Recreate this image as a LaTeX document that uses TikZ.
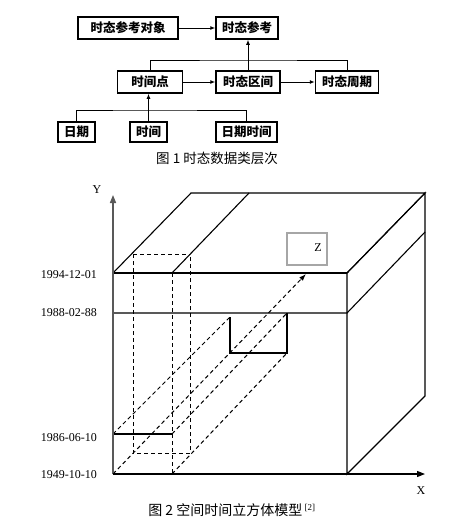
\documentclass[tikz,border=0pt]{standalone}
\usepackage{fontspec}
\setmainfont{Liberation Serif}
\newfontfamily\cjk{Noto Sans CJK SC}
\usetikzlibrary{arrows.meta}
\begin{document}
\begin{tikzpicture}[x=1pt,y=-1pt,
  box/.style={draw,line width=1.5pt,inner sep=0pt,minimum height=22pt,font=\cjk\bfseries\fontsize{12.5}{13}\selectfont},
  sbox/.style={box,minimum height=20pt},
  conn/.style={line width=1pt},
  arr/.style={conn,-{Latex[length=5pt,width=4pt]}},
  edgeline/.style={line width=1.1pt},
  dsh/.style={line width=1pt,dash pattern=on 4pt off 3pt},
  datelab/.style={anchor=east,font=\fontsize{12}{12}\selectfont,inner sep=0pt},
]
\useasboundingbox[fill=white] (0,0) rectangle (474,520);

% ---- Figure 1: hierarchy ----
\node[box,minimum width=100pt] (obj) at (128,28) {时态参考对象};
\node[box,minimum width=62pt] (ref) at (247,28) {时态参考};
\node[box,minimum width=65pt] (pt) at (150,82) {时间点};
\node[box,minimum width=64pt] (iv) at (248,82) {时态区间};
\node[box,minimum width=63pt] (per) at (347,82) {时态周期};
\node[sbox,minimum width=37pt] (date) at (76.5,132) {日期};
\node[sbox,minimum width=37pt] (time) at (148.5,132) {时间};
\node[sbox,minimum width=61pt] (dt) at (246.5,132) {日期时间};

\draw[arr] (obj) -- (ref);
\draw[arr] (pt) -- (iv);
\draw[arr] (iv) -- (per);
\coordinate (j1) at (248,60);
\draw[arr] (iv.north) -- (iv.north |- ref.south);
\draw[conn] (pt.north) |- (j1) -| (per.north);
\coordinate (j2) at (148.5,110);
\draw[arr] (time.north) -- (time.north |- pt.south);
\draw[conn] (date.north) |- (j2) -| (dt.north);

\node[font=\cjk\fontsize{13.5}{14}\selectfont] (cap1) at (217,158) {图 1 时态数据类层次};

% ---- Figure 2: space-time cube ----
\coordinate (O) at (113,474);
\coordinate (A) at (113,273);
\coordinate (B) at (347,273);
\coordinate (C) at (347,474);
\coordinate (D) at (191,193);
\coordinate (E) at (425,193);
\coordinate (F) at (425,396);
\coordinate (P) at (172,273);
\coordinate (Q) at (249,193);
\coordinate (G) at (113,313);
\coordinate (H) at (347,313);
\coordinate (H2) at (425,232);
\coordinate (K) at (113,434);
\coordinate (L) at (172,434);
\coordinate (M) at (172,474);
\coordinate (Pa) at (133,254);
\coordinate (Pb) at (190,254);
\coordinate (Pc) at (133,453);
\coordinate (Pd) at (190,453);
\coordinate (R1) at (230,317);
\coordinate (R2) at (230,353);
\coordinate (R3) at (287,353);
\coordinate (R4) at (287,313);
\coordinate (Ytip) at (113,195);
\coordinate (Xtip) at (425,474);
\coordinate (Ztip) at (306,274);

% solid edges
\draw[edgeline] (A) -- (D) -- (E) -- (B);
\draw[edgeline] (P) -- (Q);
\draw[edgeline] (B) -- (E) -- (F) -- (C) -- (B);
\draw[edgeline] (A) -- (B);
\draw[edgeline] (G) -- (H) -- (H2);
\draw[edgeline] (K) -- (L);
\draw[edgeline] (R1) -- (R2) -- (R3) -- (R4);

% dashed prism and sweep lines
\draw[dsh] (Pa) -- (Pb);
\draw[dsh] (Pa) -- (Pc) -- (Pd) -- (Pb);
\draw[dsh] (P) -- (M);
\draw[dsh] (M) -- (R3);
\draw[dsh] (K) -- (R1);
\draw[dsh] (L) -- (R4);
\draw[dsh,-{Latex[length=7pt,width=5pt]}] (O) -- (Ztip);

% axes
\draw[line width=1.5pt,gray!70!black,-{Triangle[length=8pt,width=6pt]}] (O) -- (Ytip);
\draw[line width=1.3pt,-{Triangle[length=8pt,width=6pt]}] (O) -- (Xtip);

\node[font=\fontsize{12}{12}\selectfont] (ylab) at (97,190) {Y};
\node[font=\fontsize{12}{12}\selectfont] (xlab) at (421,491) {X};
\node[draw=gray!70,line width=1.3pt,inner sep=0pt,minimum width=40pt,minimum height=32pt] (zbox) at (307,249) {};
\node[font=\fontsize{12}{12}\selectfont] (zlab) at (318,248) {Z};

\node[datelab] (d1) at (97,275) {1994-12-01};
\node[datelab] (d2) at (97,313) {1988-02-88};
\node[datelab] (d3) at (97,438) {1986-06-10};
\node[datelab] (d4) at (97,475) {1949-10-10};

\node[font=\cjk\fontsize{14}{14}\selectfont] (cap2) at (232,510) {图 2 空间时间立方体模型\,\textsuperscript{\normalfont\fontsize{9}{9}\selectfont[2]}};
\end{tikzpicture}
\end{document}
